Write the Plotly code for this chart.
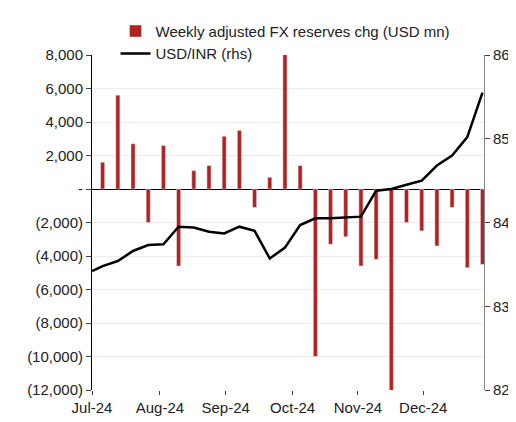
import plotly.graph_objects as go

# weekly positions (index) and values
weeks = list(range(26))
fx_chg = [1600, 5600, 2700, -2000, 2600, -4600, 1100, 1400, 3150, 3500,
          -1100, 700, 8200, 1400, -10000, -3300, -2850, -4600, -4200, -12300,
          -2000, -2500, -3400, -1100, -4700, -4500]
inr_x = [-0.7] + weeks
usdinr = [83.42, 83.48, 83.54, 83.66, 83.73, 83.74, 83.95, 83.94, 83.89, 83.87, 83.95,
          83.90, 83.57, 83.70, 83.97, 84.05, 84.05, 84.06, 84.07, 84.38, 84.40,
          84.45, 84.50, 84.68, 84.80, 85.02, 85.55]
month_pos = [-0.7, 3.77, 8.1, 12.5, 16.8, 21.1]
month_lbl = ['Jul-24', 'Aug-24', 'Sep-24', 'Oct-24', 'Nov-24', 'Dec-24']
left_ticks = [8000, 6000, 4000, 2000, 0, -2000, -4000, -6000, -8000, -10000, -12000]
left_lbl = ['8,000', '6,000', '4,000', '2,000', '-', '(2,000)', '(4,000)', '(6,000)',
            '(8,000)', '(10,000)', '(12,000)']

fig = go.Figure()
fig.add_trace(go.Bar(x=weeks, y=fx_chg, width=0.27, marker_color='#B22222',
                     name='Weekly adjusted FX reserves chg (USD mn)'))
fig.add_trace(go.Scatter(x=inr_x, y=usdinr, mode='lines', yaxis='y2',
                         line=dict(color='black', width=2.5), name='USD/INR (rhs)'))

fig.update_layout(
    width=516, height=422,
    margin=dict(l=84, r=40, t=47, b=40, autoexpand=False),
    plot_bgcolor='white', paper_bgcolor='white',
    font=dict(family='Liberation Sans, Arial', size=15, color='#222'),
    showlegend=True,
    legend=dict(x=0.06, y=1.12, xanchor='left', yanchor='top',
                bgcolor='rgba(0,0,0,0)', font=dict(size=15), tracegroupgap=4),
    xaxis=dict(range=[-0.7, 25.1], tickvals=month_pos, ticktext=month_lbl,
               showgrid=False, zeroline=False, ticks='outside', ticklen=4,
               showline=False),
    yaxis=dict(range=[-12000, 8000], tickvals=left_ticks, ticktext=left_lbl,
               showgrid=True, gridcolor='#ececec', zeroline=True,
               zerolinecolor='black', zerolinewidth=1.2,
               showline=True, linecolor='black', ticks='outside', ticklen=5),
    yaxis2=dict(range=[82, 86], dtick=1, overlaying='y', side='right',
                showgrid=False, zeroline=False, showline=True, linecolor='#888',
                ticks='outside', ticklen=5),
)

fig.write_html("out.html")
